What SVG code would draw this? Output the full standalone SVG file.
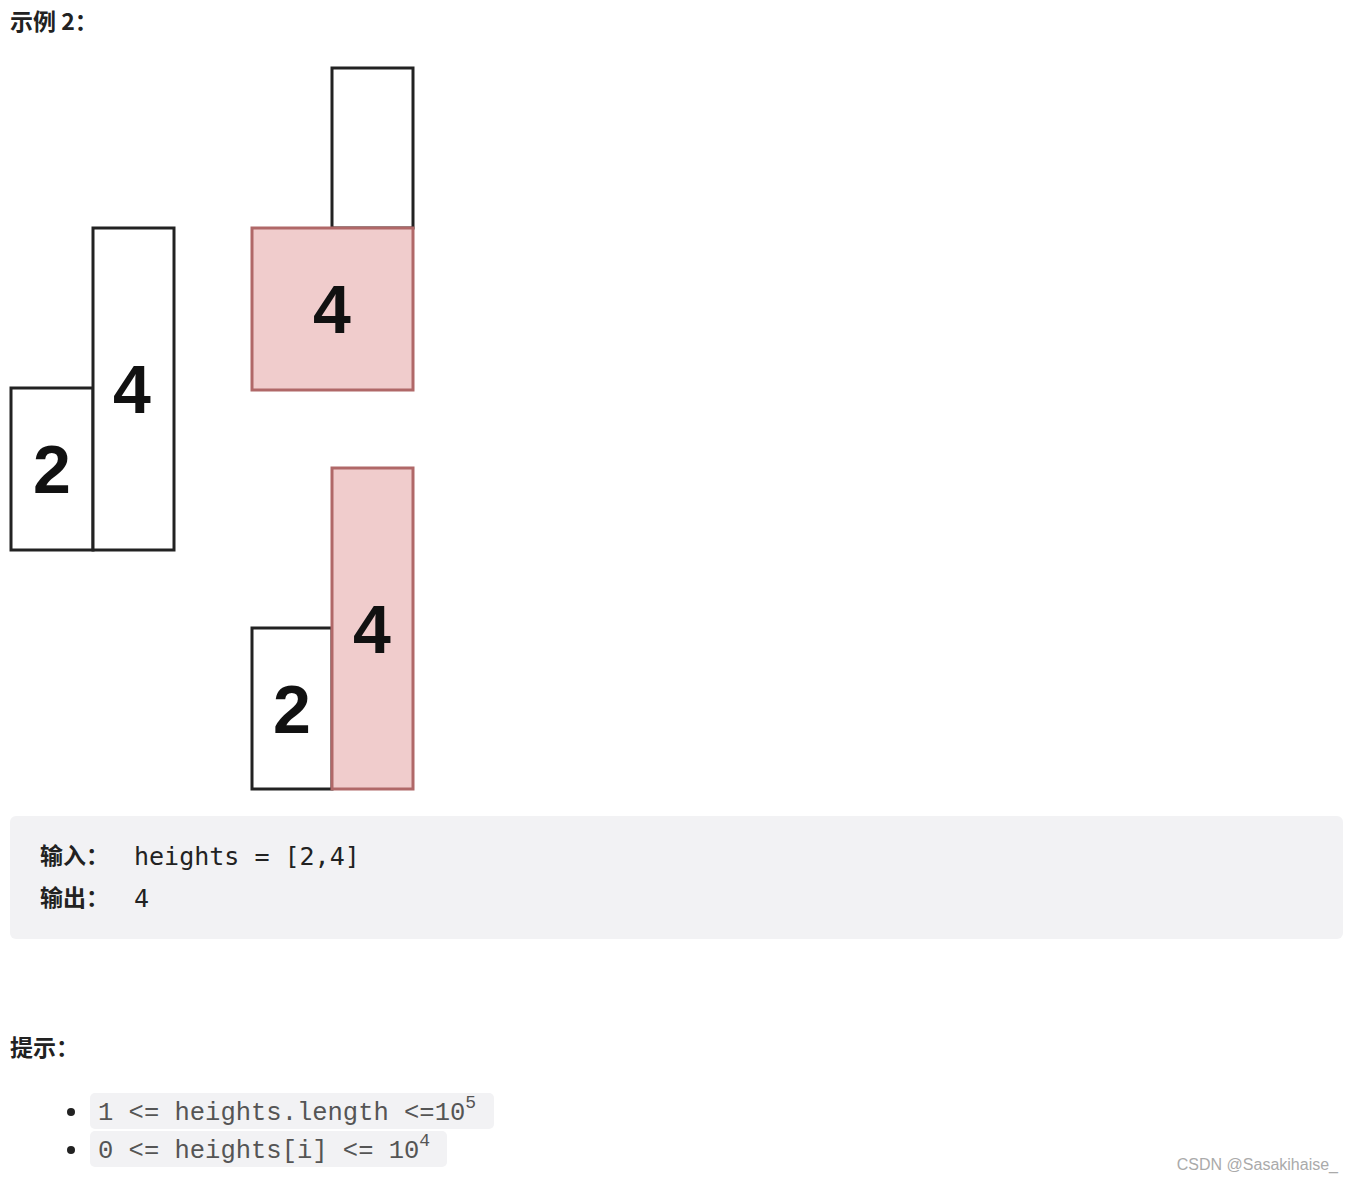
<svg xmlns="http://www.w3.org/2000/svg" width="1354" height="1182" viewBox="0 0 1354 1182">
<style>
.w{fill:#fff;stroke:#222;stroke-width:3}
.p{fill:#f0cccc;stroke:#b06868;stroke-width:3}
.d{font-family:"Liberation Sans",Arial,sans-serif;font-weight:bold;font-size:68px;fill:#111;text-anchor:middle}
.h{font-family:"Noto Sans CJK SC","Liberation Sans",sans-serif;font-weight:bold;font-size:23px;fill:#222}
.m{font-family:"DejaVu Sans Mono","Liberation Mono",monospace;font-size:25px;fill:#222}
.c{font-family:"Liberation Mono",monospace;font-size:25.5px;fill:#555}
.b{fill:#f2f2f4}
</style>
<rect width="1354" height="1182" fill="#fff"/>
<text class="h" x="10" y="30">示例 2：</text>
<g id="left">
<rect class="w" x="11" y="388" width="82" height="162"/>
<rect class="w" x="93" y="228" width="81" height="322"/>
<text class="d" x="52" y="493">2</text>
<text class="d" x="132" y="413">4</text>
</g>
<g id="top">
<rect class="w" x="332" y="68" width="81" height="160"/>
<rect class="p" x="252" y="228" width="161" height="162"/>
<text class="d" x="332" y="333">4</text>
</g>
<g id="bottom">
<rect class="w" x="252" y="628" width="80" height="161"/>
<rect class="p" x="332" y="468" width="81" height="321"/>
<text class="d" x="292" y="733">2</text>
<text class="d" x="372" y="653">4</text>
</g>
<g id="code">
<rect class="b" x="10" y="816" width="1333" height="123" rx="6"/>
<text class="h" x="40" y="864">输入：</text>
<text class="m" x="134" y="865">heights = [2,4]</text>
<text class="h" x="40" y="906">输出：</text>
<text class="m" x="134" y="907">4</text>
</g>
<text class="h" x="10" y="1056">提示：</text>
<g id="hints">
<circle cx="71" cy="1112" r="4" fill="#222"/>
<circle cx="71" cy="1150" r="4" fill="#222"/>
<rect class="b" x="90" y="1093" width="404" height="36" rx="5"/>
<rect class="b" x="90" y="1131" width="357" height="36" rx="5"/>
<text class="c" x="98" y="1120">1 &lt;= heights.length &lt;=10<tspan font-size="18" dy="-12">5</tspan></text>
<text class="c" x="98" y="1158">0 &lt;= heights[i] &lt;= 10<tspan font-size="18" dy="-12">4</tspan></text>
</g>
<text x="1338" y="1170" text-anchor="end" font-family="Liberation Sans,Arial,sans-serif" font-size="16" fill="#aaa">CSDN @Sasakihaise_</text>
</svg>
